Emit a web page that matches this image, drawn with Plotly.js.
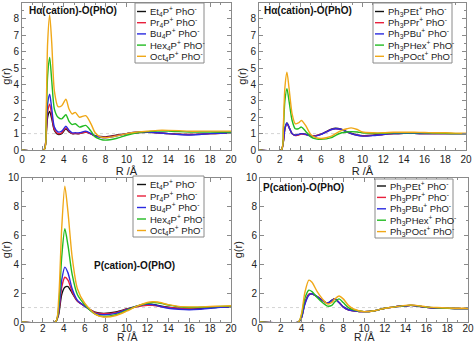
<!DOCTYPE html>
<html><head><meta charset="utf-8">
<script src="https://cdn.plot.ly/plotly-3.0.1.min.js"></script>
<style>html,body{margin:0;padding:0;background:#fff}#c{width:474px;height:344px}</style>
</head><body><div id="c"></div>
<script>
// Panel labels
const titles = ["Hα(cation)-O(PhO)", "Hα(cation)-O(PhO)", "P(cation)-O(PhO)", "P(cation)-O(PhO)"];
const namesA = ["Et<sub>4</sub>P<sup>+</sup> PhO<sup>-</sup>", "Pr<sub>4</sub>P<sup>+</sup> PhO<sup>-</sup>", "Bu<sub>4</sub>P<sup>+</sup> PhO<sup>-</sup>", "Hex<sub>4</sub>P<sup>+</sup> PhO<sup>-</sup>", "Oct<sub>4</sub>P<sup>+</sup> PhO<sup>-</sup>"];
const namesB = ["Ph<sub>3</sub>PEt<sup>+</sup> PhO<sup>-</sup>", "Ph<sub>3</sub>PPr<sup>+</sup> PhO<sup>-</sup>", "Ph<sub>3</sub>PBu<sup>+</sup> PhO<sup>-</sup>", "Ph<sub>3</sub>PHex<sup>+</sup> PhO<sup>-</sup>", "Ph<sub>3</sub>POct<sup>+</sup> PhO<sup>-</sup>"];
const colors = ["#111111", "#e8203c", "#2a2ae0", "#22bb22", "#f0a818"];
const xTitle = "R /Å";
const yTitle = "g(r)";

// Panel 1: H-alpha(cation)-O(PhO), tetraalkylphosphonium
const R1 = [0, 2.1, 2.3, 2.45, 2.65, 2.85, 3.1, 3.45, 3.8, 4.2, 4.5, 4.8, 5.1, 5.5, 6.1, 6.6, 7.0, 7.5, 8.0, 9.0, 10, 11, 12, 13, 14, 15, 16, 17, 18, 19, 20];
const p1Et  = [0,0,0.8,2.0,2.35,1.9,1.2,0.95,1.0,1.3,1.1,1.0,1.0,1.0,1.1,0.98,0.87,0.82,0.8,0.9,1.0,1.05,1.08,1.05,1.0,0.97,0.95,0.97,1.0,1.02,1.05];
const p1Pr  = [0,0,0.9,2.3,2.8,2.1,1.25,1.0,1.05,1.35,1.15,1.0,1.02,1.0,1.1,0.98,0.85,0.8,0.78,0.88,1.0,1.08,1.1,1.05,1.0,0.96,0.95,0.97,1.0,1.02,1.05];
const p1Bu  = [0,0,1.0,2.8,3.4,2.5,1.4,1.1,1.15,1.45,1.2,1.05,1.05,1.05,1.15,1.0,0.85,0.78,0.75,0.85,1.0,1.1,1.1,1.05,1.0,0.95,0.92,0.95,1.0,1.02,1.05];
const p1Hex = [0,0,1.5,4.5,5.65,4.2,2.5,2.0,1.9,2.15,1.75,1.55,1.6,1.4,1.5,1.15,0.8,0.65,0.6,0.7,0.9,1.05,1.12,1.15,1.15,1.12,1.1,1.1,1.1,1.1,1.1];
const p1Oct = [0,0,2.0,6.5,8.25,6.5,3.6,2.65,2.7,3.1,2.5,2.2,2.3,2.0,2.1,1.6,1.05,0.8,0.75,0.85,1.0,1.1,1.15,1.2,1.2,1.18,1.15,1.15,1.15,1.15,1.15];

// Panel 2: H-alpha(cation)-O(PhO), triphenylalkylphosphonium
const R2 = [0, 2.15, 2.35, 2.5, 2.7, 2.9, 3.2, 3.5, 3.8, 4.1, 4.5, 5.0, 5.5, 6.0, 6.5, 7.0, 7.4, 8.0, 8.5, 8.9, 9.5, 10, 11, 12, 13, 14, 15, 16, 17, 18, 19, 20];
const p2Et  = [0,0,0.5,1.3,1.65,1.4,1.0,0.9,0.93,1.0,0.97,0.88,0.88,0.97,1.12,1.27,1.33,1.25,1.12,1.02,0.92,0.88,0.9,0.96,1.0,1.02,1.02,1.0,1.0,1.0,1.0,1.0];
const p2Pr  = [0,0,0.5,1.28,1.62,1.38,1.0,0.88,0.92,0.98,0.95,0.87,0.88,0.96,1.1,1.25,1.3,1.24,1.1,1.0,0.9,0.86,0.89,0.95,1.0,1.02,1.02,1.0,1.0,1.0,1.0,1.0];
const p2Bu  = [0,0,0.5,1.3,1.65,1.4,1.0,0.9,0.95,1.0,0.95,0.85,0.85,0.95,1.1,1.25,1.3,1.25,1.1,1.0,0.9,0.85,0.88,0.95,1.0,1.02,1.02,1.0,1.0,1.0,1.0,1.0];
const p2Hex = [0,0,1.2,3.0,3.75,3.0,1.8,1.3,1.3,1.4,1.15,0.8,0.68,0.65,0.68,0.75,0.9,1.05,1.1,1.12,1.1,1.05,1.02,1.02,1.05,1.05,1.05,1.05,1.03,1.02,1.0,1.0];
const p2Oct = [0,0,1.5,3.8,4.75,3.8,2.2,1.6,1.65,1.8,1.5,0.95,0.75,0.7,0.75,0.85,1.0,1.2,1.3,1.35,1.25,1.1,1.05,1.05,1.08,1.08,1.08,1.07,1.05,1.05,1.03,1.02];

// Panel 3: P(cation)-O(PhO), tetraalkylphosphonium
const R3 = [0, 3.2, 3.5, 3.8, 4.1, 4.4, 4.8, 5.3, 6.0, 7.0, 7.8, 9, 10, 11, 12, 12.5, 13, 14, 15, 16, 17, 18, 19, 20];
const p3Et  = [0,0,0.5,1.9,2.4,2.45,2.0,1.45,1.1,0.68,0.6,0.7,0.9,1.1,1.25,1.22,1.15,1.02,0.93,0.9,0.93,0.98,1.03,1.06];
const p3Pr  = [0,0,0.6,2.4,3.1,2.9,2.1,1.45,1.1,0.65,0.58,0.65,0.88,1.05,1.15,1.15,1.1,1.0,0.95,0.95,0.98,1.02,1.05,1.08];
const p3Bu  = [0,0,0.7,2.9,3.8,3.4,2.3,1.5,1.1,0.6,0.5,0.6,0.85,1.1,1.25,1.2,1.12,0.95,0.88,0.85,0.88,0.95,1.02,1.05];
const p3Hex = [0,0,1.0,4.5,6.45,5.3,3.3,1.9,1.2,0.55,0.38,0.5,0.8,1.1,1.3,1.35,1.32,1.18,1.05,1.0,1.02,1.05,1.08,1.1];
const p3Oct = [0,0,1.5,6.5,9.4,7.6,4.5,2.3,1.3,0.55,0.35,0.45,0.75,1.1,1.35,1.4,1.38,1.2,1.08,1.05,1.05,1.08,1.1,1.12];

// Panel 4: P(cation)-O(PhO), triphenylalkylphosphonium
const R4 = [0, 3.7, 4.0, 4.3, 4.7, 5.0, 5.5, 6.0, 6.5, 6.9, 7.2, 7.6, 8.0, 8.5, 9.0, 10, 11, 12, 13, 14, 14.5, 15, 16, 17, 18, 19, 20];
const p4Et  = [0,0,0.35,1.3,1.92,1.95,1.75,1.5,1.3,1.5,1.62,1.35,1.05,0.85,0.78,0.72,0.78,0.95,1.05,1.12,1.15,1.12,1.02,0.97,0.95,0.93,0.93];
const p4Pr  = [0,0,0.32,1.25,1.9,1.95,1.75,1.5,1.28,1.48,1.6,1.35,1.05,0.85,0.78,0.72,0.78,0.95,1.05,1.12,1.15,1.12,1.02,0.97,0.95,0.93,0.93];
const p4Bu  = [0,0,0.3,1.2,1.85,1.95,1.75,1.5,1.3,1.5,1.6,1.35,1.05,0.85,0.78,0.72,0.78,0.95,1.05,1.12,1.15,1.12,1.02,0.97,0.95,0.93,0.93];
const p4Hex = [0,0,0.5,1.6,2.2,2.1,1.7,1.35,1.1,1.15,1.4,1.6,1.35,1.0,0.85,0.72,0.78,0.95,1.05,1.13,1.15,1.13,1.03,0.98,0.95,0.93,0.93];
const p4Oct = [0,0,0.6,2.0,2.9,2.75,2.1,1.6,1.25,1.35,1.6,1.8,1.6,1.15,0.9,0.72,0.78,0.95,1.05,1.15,1.18,1.15,1.05,1.0,0.97,0.95,0.95];

const xTicks = [0,2,4,6,8,10,12,14,16,18,20];

const W = 474, H = 344;
const px = v => v / W;
const py = v => 1 - v / H;
const FONT = 'Liberation Sans, Arial, sans-serif';

const panels = [
  {R: R1, ys: [p1Et,p1Pr,p1Bu,p1Hex,p1Oct], names: namesA, xa: 'x',  ya: 'y',
   box: [135, 3, 204, 63], row0: 11.5, step: 11.2, lx: [137, 146], tx: 148,
   title: [27, 10]},
  {R: R2, ys: [p2Et,p2Pr,p2Bu,p2Hex,p2Oct], names: namesB, xa: 'x2', ya: 'y2',
   box: [373, 3, 452, 63], row0: 11.5, step: 11.2, lx: [375, 384], tx: 386,
   title: [262, 10]},
  {R: R3, ys: [p3Et,p3Pr,p3Bu,p3Hex,p3Oct], names: namesA, xa: 'x3', ya: 'y3',
   box: [133, 176, 204, 237], row0: 184.5, step: 11.5, lx: [137, 146], tx: 148,
   title: [92, 265], xt: 126.5},
  {R: R4, ys: [p4Et,p4Pr,p4Bu,p4Hex,p4Oct], names: namesB, xa: 'x4', ya: 'y4',
   box: [375, 179, 453, 238], row0: 186, step: 11.4, lx: [377, 386], tx: 388,
   title: [261, 187], xt: 364}
];

const traces = [];
const shapes = [];
const annotations = [];
panels.forEach((p, k) => {
  p.ys.forEach((y, i) => {
    traces.push({
      x: p.R, y: y, name: p.names[i], xaxis: p.xa, yaxis: p.ya, showlegend: false,
      type: 'scatter', mode: 'lines',
      line: {color: colors[i], width: 1.4, shape: 'spline', smoothing: 0.7}
    });
  });
  const s = k === 0 ? '' : String(k + 1);
  shapes.push({type: 'line', xref: 'x' + s + ' domain', yref: 'y' + s, x0: 0, x1: 1, y0: 1, y1: 1,
    line: {color: '#d4d4d4', width: 1, dash: 'dot'}, layer: 'below'});
  shapes.push({type: 'rect', xref: 'paper', yref: 'paper',
    x0: px(p.box[0]), x1: px(p.box[2]), y0: py(p.box[3]), y1: py(p.box[1]),
    line: {color: '#8a8a8a', width: 1}, fillcolor: '#ffffff', layer: 'above'});
  p.names.forEach((n, i) => {
    const yy = p.row0 + i * p.step;
    shapes.push({type: 'line', xref: 'paper', yref: 'paper',
      x0: px(p.lx[0]), x1: px(p.lx[1]), y0: py(yy), y1: py(yy),
      line: {color: colors[i], width: 1.4}, layer: 'above'});
    annotations.push({text: n, xref: 'paper', yref: 'paper', x: px(p.tx), y: py(yy),
      xanchor: 'left', yanchor: 'middle', showarrow: false,
      font: {family: FONT, size: 9.5, color: '#222'}});
  });
  annotations.push({text: '<b>' + titles[k] + '</b>', xref: 'paper', yref: 'paper',
    x: px(p.title[0]), y: py(p.title[1]), xanchor: 'left', yanchor: 'middle', showarrow: false,
    font: {family: FONT, size: 10, color: '#111'}});
  if (p.xt) {
    annotations.push({text: xTitle, xref: 'paper', yref: 'paper',
      x: px(p.xt), y: 0, xanchor: 'center', yanchor: 'bottom', showarrow: false,
      borderpad: 0, font: {family: FONT, size: 10.5, color: '#222'}});
  }
});

const axBase = {
  showline: true, linecolor: '#8a8a8a', linewidth: 1, mirror: 'ticks',
  ticks: 'inside', ticklen: 4, tickcolor: '#8a8a8a', showgrid: false, zeroline: false,
  tickfont: {family: FONT, size: 10, color: '#222'}
};
const titleFont = {family: FONT, size: 11, color: '#222'};
function xax(dom, anchor, withTitle) {
  return Object.assign({}, axBase, {
    domain: dom, anchor: anchor, range: [0, 20], tickvals: xTicks,
    ticklabelstandoff: withTitle ? 0 : -3,
    minor: {ticks: 'inside', ticklen: 2, dtick: 1, tickcolor: '#8a8a8a'},
    title: {text: withTitle ? xTitle : '', standoff: 2, font: titleFont}
  });
}
function yax(dom, anchor, range, dtick, mdt) {
  return Object.assign({}, axBase, {
    domain: dom, anchor: anchor, range: range, dtick: dtick, tick0: 0,
    minor: {ticks: 'inside', ticklen: 2, dtick: mdt, tickcolor: '#8a8a8a'},
    title: {text: yTitle, standoff: 1, font: titleFont}
  });
}

const topDom = [py(150), py(2.6)];
const botDom = [py(322), py(177.5)];

const layout = {
  width: W, height: H, margin: {l: 0, r: 0, t: 0, b: 0},
  paper_bgcolor: '#ffffff', plot_bgcolor: '#ffffff',
  font: {family: FONT}, showlegend: false,
  xaxis:  xax([px(22), px(231)], 'y', true),
  yaxis:  yax(topDom, 'x', [0, 9.0001], 1, 0.5),
  xaxis2: xax([px(259), px(466)], 'y2', true),
  yaxis2: yax(topDom, 'x2', [0, 9.0001], 1, 0.5),
  xaxis3: xax([px(22), px(231)], 'y3', false),
  yaxis3: yax(botDom, 'x3', [0, 10.0001], 2, 1),
  xaxis4: xax([px(260), px(468)], 'y4', false),
  yaxis4: yax(botDom, 'x4', [0, 10.0001], 2, 1),
  shapes: shapes,
  annotations: annotations
};

Plotly.newPlot('c', traces, layout, {displayModeBar: false, staticPlot: true});
</script></body></html>
